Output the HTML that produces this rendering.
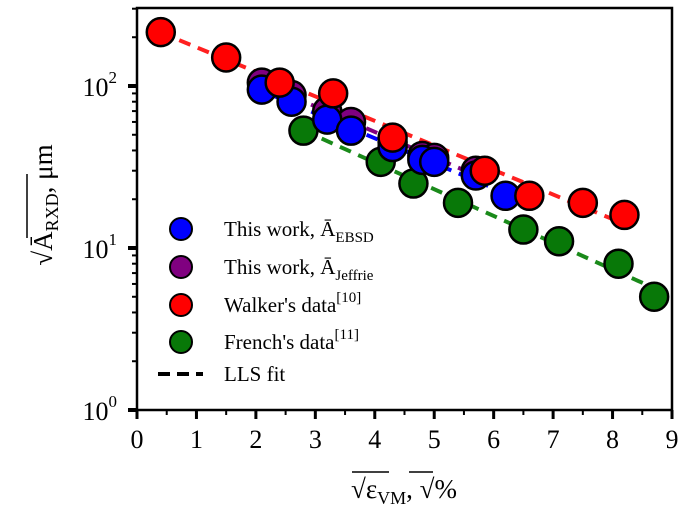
<!DOCTYPE html>
<html><head><meta charset="utf-8"><style>
body{margin:0;background:#fff;}
svg{display:block;font-family:"Liberation Serif",serif;}
</style></head><body>
<svg id="c" width="685" height="515" viewBox="0 0 685 515"></svg>
<script>
const blueX=[2.1,2.6,3.2,3.6,4.3,4.8,5.0,5.7,6.2];
const blueY=[95,80,62,53,42,35,34,28,21];
const purpleX=[2.1,2.6,3.2,3.6,4.3,4.8,5.0,5.7];
const purpleY=[105,88,70,60,45,37,36,30];
const redX=[0.4,1.5,2.4,3.3,4.3,5.85,6.6,7.5,8.2];
const redY=[215,150,105,90,48,30,21,19,16];
const greenX=[2.8,4.1,4.65,5.4,6.5,7.1,8.1,8.7];
const greenY=[53,34,25,19,13,11,8,5];
const xTicks=[0,1,2,3,4,5,6,7,8,9];
const yDecades=[0,1,2];
const NS="http://www.w3.org/2000/svg";
const svg=document.getElementById('c');
const X0=137,X1=672,Yb=410,Yt=8;
const sx=v=>X0+(X1-X0)*v/9;
const sy=v=>86-162*(Math.log10(v)-2);
function el(t,a,p){const e=document.createElementNS(NS,t);for(const k in a)e.setAttribute(k,a[k]);(p||svg).appendChild(e);return e;}
function fitLine(xs,ys,col,x0,x1){
  const n=xs.length;let mx=0,my=0;xs.forEach((x,i)=>{mx+=x;my+=Math.log10(ys[i]);});mx/=n;my/=n;
  let sxy=0,sxx=0;xs.forEach((x,i)=>{sxy+=(x-mx)*(Math.log10(ys[i])-my);sxx+=(x-mx)*(x-mx);});
  const b=sxy/sxx,a=my-b*mx;
  const l=el('line',{x1:sx(x0),y1:sy(Math.pow(10,a+b*x0)),x2:sx(x1),y2:sy(Math.pow(10,a+b*x1)),stroke:col,'stroke-width':4,'stroke-dasharray':'12,8'});
  
  
}
function pts(xs,ys,col,name){
  xs.forEach((x,i)=>{const c=el('circle',{cx:sx(x),cy:sy(ys[i]),r:14,fill:col,stroke:'#000','stroke-width':2.5});
  
  });
}
const fr=el('rect',{x:X0,y:Yt,width:X1-X0,height:Yb-Yt,fill:'none',stroke:'#000','stroke-width':2.5});

xTicks.forEach(t=>{el('line',{x1:sx(t),y1:Yb,x2:sx(t),y2:Yb+9,stroke:'#000','stroke-width':3});
  if(t<9)el('line',{x1:sx(t+0.5),y1:Yb,x2:sx(t+0.5),y2:Yb+5,stroke:'#000','stroke-width':2});
  const tx=el('text',{x:sx(t),y:Yb+38,'font-size':26,'text-anchor':'middle'});tx.textContent=t;
  });
yDecades.forEach(d=>{const y=sy(Math.pow(10,d));
  el('line',{x1:X0-9,y1:y,x2:X0,y2:y,stroke:'#000','stroke-width':4});
  const tx=el('text',{x:X0-20,y:y+10,'font-size':26,'text-anchor':'end'});tx.innerHTML='10<tspan dy="-13" font-size="17">'+d+'</tspan>';
  
  for(let m=2;m<=9;m++){const v=m*Math.pow(10,d);const yy=sy(v);if(yy>=Yt)el('line',{x1:X0-5,y1:yy,x2:X0,y2:yy,stroke:'#000','stroke-width':2});}
});
fitLine(greenX,greenY,'#1a8a1a',2.8,8.7);
fitLine(purpleX,purpleY,'#800080',2.0,5.8);
fitLine(blueX,blueY,'#0000ff',2.0,6.2);
fitLine(redX,redY,'#ff2020',0.4,8.2);
pts(greenX,greenY,'#087808','french');
pts(purpleX,purpleY,'#800080','jeffrie');
pts(blueX,blueY,'#0000ff','ebsd');
pts(redX,redY,'#ff0000','walker');
const lg=[['#0000ff','This work, Ā<tspan dy="6" font-size="15">EBSD</tspan>',229],['#800080','This work, Ā<tspan dy="6" font-size="15">Jeffrie</tspan>',267],['#ff0000','Walker\'s data<tspan dy="-10" font-size="15">[10]</tspan>',305],['#087808','French\'s data<tspan dy="-10" font-size="15">[11]</tspan>',342]];
const g=el('g',{});
lg.forEach(r=>{el('circle',{cx:181,cy:r[2],r:11,fill:r[0],stroke:'#000','stroke-width':2},g);
  const t=el('text',{x:224,y:r[2]+7,'font-size':21},g);t.innerHTML=r[1];});
el('line',{x1:158,y1:374,x2:203,y2:374,stroke:'#000','stroke-width':4,'stroke-dasharray':'12,7'},g);
const lt=el('text',{x:224,y:381,'font-size':21},g);lt.textContent='LLS fit';
const xt=el('text',{x:404,y:498,'font-size':27,'text-anchor':'middle'});
xt.innerHTML='√ε<tspan dy="6" font-size="18">VM</tspan><tspan dy="-6">, √%</tspan>';

el('line',{x1:352,y1:472,x2:389,y2:472,stroke:'#000','stroke-width':1.5});
el('line',{x1:409,y1:472,x2:433,y2:472,stroke:'#000','stroke-width':1.5});
const yt=el('text',{x:0,y:0,'font-size':27,'text-anchor':'middle',transform:'translate(52,205) rotate(-90)'});
yt.innerHTML='√Ā<tspan dy="6" font-size="18">RXD</tspan><tspan dy="-6">, μm</tspan>';

el('line',{x1:27,y1:174,x2:27,y2:238,stroke:'#000','stroke-width':1.5});
</script>
</body></html>
